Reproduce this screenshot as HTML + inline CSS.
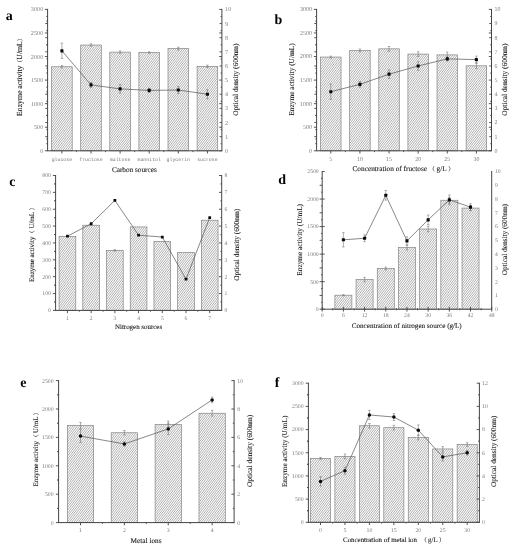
<!DOCTYPE html>
<html lang="en">
<head>
<meta charset="utf-8">
<title>Figure: enzyme activity and optical density</title>
<style>
html,body{margin:0;padding:0;background:#fff;}
body{width:514px;height:550px;overflow:hidden;}
svg{display:block;}
text{white-space:pre;text-rendering:geometricPrecision;font-family:"Liberation Serif","Noto Serif CJK SC",serif;fill:#1a1a1a;}
.k,.ke,.ks{fill:#7c7c7c;}
.k,.m{text-anchor:middle;}
.ke{text-anchor:end;}
.m{font-family:"Liberation Mono",monospace;fill:#777;}
.t{stroke:#1a1a1a;stroke-width:0.1;}
.L{font-weight:bold;fill:#000;}
.A{stroke:#444;stroke-width:1;fill:none;}
.a{stroke:#444;stroke-width:0.9;fill:none;}
.b{fill:none;stroke:#858585;stroke-width:0.7;}
.e{stroke:#6e6e6e;stroke-width:0.55;fill:none;}
.l{stroke:#555;stroke-width:0.7;fill:none;}
rect,circle{fill:#0a0a0a;}
</style>
</head>
<body>
<svg width="514" height="550" viewBox="0 0 514 550">
<defs>
<clipPath id="bc">
<rect x="51.6" y="66.76" width="20.6" height="84.04"/>
<rect x="80.7" y="45.03" width="20.6" height="105.77"/>
<rect x="109.8" y="52.15" width="20.6" height="98.65"/>
<rect x="138.9" y="52.53" width="20.6" height="98.27"/>
<rect x="168" y="48.61" width="20.6" height="102.19"/>
<rect x="197.1" y="66.34" width="20.6" height="84.46"/>
<rect x="320.55" y="57.05" width="20.5" height="93.75"/>
<rect x="349.67" y="50.45" width="20.5" height="100.35"/>
<rect x="378.79" y="48.85" width="20.5" height="101.95"/>
<rect x="407.91" y="54.08" width="20.5" height="96.72"/>
<rect x="437.03" y="54.88" width="20.5" height="95.92"/>
<rect x="466.15" y="65.82" width="20.5" height="84.98"/>
<rect x="59.1" y="236.37" width="16.7" height="74.03"/>
<rect x="82.81" y="225.24" width="16.7" height="85.16"/>
<rect x="106.52" y="250.37" width="16.7" height="60.03"/>
<rect x="130.23" y="226.93" width="16.7" height="83.47"/>
<rect x="153.94" y="241.6" width="16.7" height="68.8"/>
<rect x="177.65" y="252.39" width="16.7" height="58.01"/>
<rect x="201.36" y="220.19" width="16.7" height="90.21"/>
<rect x="334.89" y="295.21" width="17" height="13.99"/>
<rect x="356.08" y="279.57" width="17" height="29.63"/>
<rect x="377.27" y="268.44" width="17" height="40.76"/>
<rect x="398.46" y="247.51" width="17" height="61.69"/>
<rect x="419.65" y="229" width="17" height="80.2"/>
<rect x="440.84" y="200.25" width="17" height="108.95"/>
<rect x="462.03" y="208.07" width="17" height="101.13"/>
<rect x="67.35" y="425.47" width="26.3" height="97.13"/>
<rect x="111.23" y="432.74" width="26.3" height="89.86"/>
<rect x="155.11" y="424.51" width="26.3" height="98.09"/>
<rect x="198.99" y="413.26" width="26.3" height="109.34"/>
<rect x="310.45" y="458.36" width="20.1" height="63.94"/>
<rect x="334.9" y="456.37" width="20.1" height="65.93"/>
<rect x="359.35" y="425.76" width="20.1" height="96.54"/>
<rect x="383.8" y="427.67" width="20.1" height="94.63"/>
<rect x="408.25" y="437.54" width="20.1" height="84.76"/>
<rect x="432.7" y="448.95" width="20.1" height="73.35"/>
<rect x="457.15" y="444.54" width="20.1" height="77.76"/>
</clipPath>
</defs>
<rect width="514" height="550" style="fill:#fff"/>
<path clip-path="url(#bc)" d="M0.3 0L0 0.39M2.5 0L0 3.25M4.7 0L0 6.11M6.9 0L0 8.97M9.1 0L0 11.83M11.3 0L0 14.69M13.5 0L0 17.55M15.7 0L0 20.41M17.9 0L0 23.27M20.1 0L0 26.13M22.3 0L0 28.99M24.5 0L0 31.85M26.7 0L0 34.71M28.9 0L0 37.57M31.1 0L0 40.43M33.3 0L0 43.29M35.5 0L0 46.15M37.7 0L0 49.01M39.9 0L0 51.87M42.1 0L0 54.73M44.3 0L0 57.59M46.5 0L0 60.45M48.7 0L0 63.31M50.9 0L0 66.17M53.1 0L0 69.03M55.3 0L0 71.89M57.5 0L0 74.75M59.7 0L0 77.61M61.9 0L0 80.47M64.1 0L0 83.33M66.3 0L0 86.19M68.5 0L0 89.05M70.7 0L0 91.91M72.9 0L0 94.77M75.1 0L0 97.63M77.3 0L0 100.49M79.5 0L0 103.35M81.7 0L0 106.21M83.9 0L0 109.07M86.1 0L0 111.93M88.3 0L0 114.79M90.5 0L0 117.65M92.7 0L0 120.51M94.9 0L0 123.37M97.1 0L0 126.23M99.3 0L0 129.09M101.5 0L0 131.95M103.7 0L0 134.81M105.9 0L0 137.67M108.1 0L0 140.53M110.3 0L0 143.39M112.5 0L0 146.25M114.7 0L0 149.11M116.9 0L0 151.97M119.1 0L0 154.83M121.3 0L0 157.69M123.5 0L0 160.55M125.7 0L0 163.41M127.9 0L0 166.27M130.1 0L0 169.13M132.3 0L0 171.99M134.5 0L0 174.85M136.7 0L0 177.71M138.9 0L0 180.57M141.1 0L0 183.43M143.3 0L0 186.29M145.5 0L0 189.15M147.7 0L0 192.01M149.9 0L0 194.87M152.1 0L0 197.73M154.3 0L0 200.59M156.5 0L0 203.45M158.7 0L0 206.31M160.9 0L0 209.17M163.1 0L0 212.03M165.3 0L0 214.89M167.5 0L0 217.75M169.7 0L0 220.61M171.9 0L0 223.47M174.1 0L0 226.33M176.3 0L0 229.19M178.5 0L0 232.05M180.7 0L0 234.91M182.9 0L0 237.77M185.1 0L0 240.63M187.3 0L0 243.49M189.5 0L0 246.35M191.7 0L0 249.21M193.9 0L0 252.07M196.1 0L0 254.93M198.3 0L0 257.79M200.5 0L0 260.65M202.7 0L0 263.51M204.9 0L0 266.37M207.1 0L0 269.23M209.3 0L0 272.09M211.5 0L0 274.95M213.7 0L0 277.81M215.9 0L0 280.67M218.1 0L0 283.53M220.3 0L0 286.39M222.5 0L0 289.25M224.7 0L0 292.11M226.9 0L0 294.97M229.1 0L0 297.83M231.3 0L0 300.69M233.5 0L0 303.55M235.7 0L0 306.41M237.9 0L0 309.27M240.1 0L0 312.13M242.3 0L0 314.99M244.5 0L0 317.85M246.7 0L0 320.71M248.9 0L0 323.57M251.1 0L0 326.43M253.3 0L0 329.29M255.5 0L0 332.15M257.7 0L0 335.01M259.9 0L0 337.87M262.1 0L0 340.73M264.3 0L0 343.59M266.5 0L0 346.45M268.7 0L0 349.31M270.9 0L0 352.17M273.1 0L0 355.03M275.3 0L0 357.89M277.5 0L0 360.75M279.7 0L0 363.61M281.9 0L0 366.47M284.1 0L0 369.33M286.3 0L0 372.19M288.5 0L0 375.05M290.7 0L0 377.91M292.9 0L0 380.77M295.1 0L0 383.63M297.3 0L0 386.49M299.5 0L0 389.35M301.7 0L0 392.21M303.9 0L0 395.07M306.1 0L0 397.93M308.3 0L0 400.79M310.5 0L0 403.65M312.7 0L0 406.51M314.9 0L0 409.37M317.1 0L0 412.23M319.3 0L0 415.09M321.5 0L0 417.95M323.7 0L0 420.81M325.9 0L0 423.67M328.1 0L0 426.53M330.3 0L0 429.39M332.5 0L0 432.25M334.7 0L0 435.11M336.9 0L0 437.97M339.1 0L0 440.83M341.3 0L0 443.69M343.5 0L0 446.55M345.7 0L0 449.41M347.9 0L0 452.27M350.1 0L0 455.13M352.3 0L0 457.99M354.5 0L0 460.85M356.7 0L0 463.71M358.9 0L0 466.57M361.1 0L0 469.43M363.3 0L0 472.29M365.5 0L0 475.15M367.7 0L0 478.01M369.9 0L0 480.87M372.1 0L0 483.73M374.3 0L0 486.59M376.5 0L0 489.45M378.7 0L0 492.31M380.9 0L0 495.17M383.1 0L0 498.03M385.3 0L0 500.89M387.5 0L0 503.75M389.7 0L0 506.61M391.9 0L0 509.47M394.1 0L0 512.33M396.3 0L0 515.19M398.5 0L0 518.05M400.7 0L0 520.91M402.9 0L0 523.77M405.1 0L0 526.63M407.3 0L0 529.49M409.5 0L0 532.35M411.7 0L0 535.21M413.9 0L0 538.07M416.1 0L0 540.93M418.3 0L0 543.79M420.5 0L0 546.65M422.7 0L0 549.51M424.9 0L0 552.37M427.1 0L0 555.23M429.3 0L0 558.09M431.5 0L0 560.95M433.7 0L0 563.81M435.9 0L0 566.67M438.1 0L0 569.53M440.3 0L0 572.39M442.5 0L0 575.25M444.7 0L0 578.11M446.9 0L0 580.97M449.1 0L0 583.83M451.3 0L0 586.69M453.5 0L0 589.55M455.7 0L0 592.41M457.9 0L0 595.27M460.1 0L0 598.13M462.3 0L0 600.99M464.5 0L0 603.85M466.7 0L0 606.71M468.9 0L0 609.57M471.1 0L0 612.43M473.3 0L0 615.29M475.5 0L0 618.15M477.7 0L0 621.01M479.9 0L0 623.87M482.1 0L0 626.73M484.3 0L0 629.59M486.5 0L0 632.45M488.7 0L0 635.31M490.9 0L0 638.17M493.1 0L0 641.03M495.3 0L0 643.89M497.5 0L0 646.75M499.7 0L0 649.61M501.9 0L0 652.47M504.1 0L0 655.33M506.3 0L0 658.19M508.5 0L0 661.05M510.7 0L0 663.91M512.9 0L0 666.77M515.1 0L0 669.63M517.3 0L0 672.49M519.5 0L0 675.35M521.7 0L0 678.21M523.9 0L0 681.07M526.1 0L0 683.93M528.3 0L0 686.79M530.5 0L0 689.65M532.7 0L0 692.51M534.9 0L0 695.37M537.1 0L0 698.23M539.3 0L0 701.09M541.5 0L0 703.95M543.7 0L0 706.81M545.9 0L0 709.67M548.1 0L0 712.53M550.3 0L0 715.39M552.5 0L0 718.25M554.7 0L0 721.11M556.9 0L0 723.97M559.1 0L0 726.83M561.3 0L0 729.69M563.5 0L0 732.55M565.7 0L0 735.41M567.9 0L0 738.27M570.1 0L0 741.13M572.3 0L0 743.99M574.5 0L0 746.85M576.7 0L0 749.71M578.9 0L0 752.57M581.1 0L0 755.43M583.3 0L0 758.29M585.5 0L0 761.15M587.7 0L0 764.01M589.9 0L0 766.87M592.1 0L0 769.73M594.3 0L0 772.59M596.5 0L0 775.45M598.7 0L0 778.31M600.9 0L0 781.17M603.1 0L0 784.03M605.3 0L0 786.89M607.5 0L0 789.75M609.7 0L0 792.61M611.9 0L0 795.47M614.1 0L0 798.33M616.3 0L0 801.19M618.5 0L0 804.05M620.7 0L0 806.91M622.9 0L0 809.77M625.1 0L0 812.63M627.3 0L0 815.49M629.5 0L0 818.35M631.7 0L0 821.21M633.9 0L0 824.07M636.1 0L0 826.93M638.3 0L0 829.79M640.5 0L0 832.65M642.7 0L0 835.51M644.9 0L0 838.37M647.1 0L0 841.23M649.3 0L0 844.09M651.5 0L0 846.95M653.7 0L0 849.81M655.9 0L0 852.67M658.1 0L0 855.53M660.3 0L0 858.39M662.5 0L0 861.25M664.7 0L0 864.11M666.9 0L0 866.97M669.1 0L0 869.83M671.3 0L0 872.69M673.5 0L0 875.55M675.7 0L0 878.41M677.9 0L0 881.27M680.1 0L0 884.13M682.3 0L0 886.99M684.5 0L0 889.85M686.7 0L0 892.71M688.9 0L0 895.57M691.1 0L0 898.43M693.3 0L0 901.29M695.5 0L0 904.15M697.7 0L0 907.01M699.9 0L0 909.87M702.1 0L0 912.73M704.3 0L0 915.59M706.5 0L0 918.45M708.7 0L0 921.31M710.9 0L0 924.17M713.1 0L0 927.03M715.3 0L0 929.89M717.5 0L0 932.75M719.7 0L0 935.61M721.9 0L0 938.47M724.1 0L0 941.33M726.3 0L0 944.19M728.5 0L0 947.05M730.7 0L0 949.91M732.9 0L0 952.77M735.1 0L0 955.63M737.3 0L0 958.49M739.5 0L0 961.35M741.7 0L0 964.21M743.9 0L0 967.07M746.1 0L0 969.93M748.3 0L0 972.79M750.5 0L0 975.65M752.7 0L0 978.51M754.9 0L0 981.37M757.1 0L0 984.23M759.3 0L0 987.09M761.5 0L0 989.95M763.7 0L0 992.81M765.9 0L0 995.67M768.1 0L0 998.53M770.3 0L0 1001.39M772.5 0L0 1004.25M774.7 0L0 1007.11M776.9 0L0 1009.97M779.1 0L0 1012.83M781.3 0L0 1015.69M783.5 0L0 1018.55M785.7 0L0 1021.41M787.9 0L0 1024.27M790.1 0L0 1027.13M792.3 0L0 1029.99M794.5 0L0 1032.85M796.7 0L0 1035.71M798.9 0L0 1038.57M801.1 0L0 1041.43M803.3 0L0 1044.29M805.5 0L0 1047.15M807.7 0L0 1050.01M809.9 0L0 1052.87M812.1 0L0 1055.73M814.3 0L0 1058.59M816.5 0L0 1061.45M818.7 0L0 1064.31M820.9 0L0 1067.17M823.1 0L0 1070.03M825.3 0L0 1072.89M827.5 0L0 1075.75M829.7 0L0 1078.61M831.9 0L0 1081.47M834.1 0L0 1084.33M836.3 0L0 1087.19M838.5 0L0 1090.05M840.7 0L0 1092.91M842.9 0L0 1095.77M845.1 0L0 1098.63M847.3 0L0 1101.49M849.5 0L0 1104.35M851.7 0L0 1107.21M853.9 0L0 1110.07M856.1 0L0 1112.93M858.3 0L0 1115.79M860.5 0L0 1118.65M862.7 0L0 1121.51M864.9 0L0 1124.37M867.1 0L0 1127.23M869.3 0L0 1130.09M871.5 0L0 1132.95M873.7 0L0 1135.81M875.9 0L0 1138.67M878.1 0L0 1141.53M880.3 0L0 1144.39M882.5 0L0 1147.25M884.7 0L0 1150.11M886.9 0L0 1152.97M889.1 0L0 1155.83M891.3 0L0 1158.69M893.5 0L0 1161.55M895.7 0L0 1164.41M897.9 0L0 1167.27M900.1 0L0 1170.13M902.3 0L0 1172.99M904.5 0L0 1175.85M906.7 0L0 1178.71M908.9 0L0 1181.57M911.1 0L0 1184.43M913.3 0L0 1187.29M915.5 0L0 1190.15M917.7 0L0 1193.01M919.9 0L0 1195.87M922.1 0L0 1198.73M924.3 0L0 1201.59M926.5 0L0 1204.45M928.7 0L0 1207.31M930.9 0L0 1210.17M933.1 0L0 1213.03M935.3 0L0 1215.89" stroke="#8c8c8c" stroke-width="0.7" fill="none"/>
<g>
<rect x="51.6" y="66.76" width="20.6" height="84.04" class="b"/>
<path class="e" d="M61.9 65.58V67.94M60.7 65.58h2.4M60.7 67.94h2.4"/>
<rect x="80.7" y="45.03" width="20.6" height="105.77" class="b"/>
<path class="e" d="M91 43.85V46.21M89.8 43.85h2.4M89.8 46.21h2.4"/>
<rect x="109.8" y="52.15" width="20.6" height="98.65" class="b"/>
<path class="e" d="M120.1 50.97V53.33M118.9 50.97h2.4M118.9 53.33h2.4"/>
<rect x="138.9" y="52.53" width="20.6" height="98.27" class="b"/>
<path class="e" d="M149.2 51.82V53.23M148 51.82h2.4M148 53.23h2.4"/>
<rect x="168" y="48.61" width="20.6" height="102.19" class="b"/>
<path class="e" d="M178.3 47.2V50.03M177.1 47.2h2.4M177.1 50.03h2.4"/>
<rect x="197.1" y="66.34" width="20.6" height="84.46" class="b"/>
<path class="e" d="M207.4 65.16V67.52M206.2 65.16h2.4M206.2 67.52h2.4"/>
<path class="A" d="M47.1 150.8H222.4"/>
<path class="A" d="M47.6 8.9V150.8"/>
<path class="A" d="M221.9 8.9V150.8"/>
<path class="a" d="M47.6 150.8h-2.7M47.6 127.23h-2.7M47.6 103.67h-2.7M47.6 80.1h-2.7M47.6 56.53h-2.7M47.6 32.97h-2.7M47.6 9.4h-2.7M47.6 136.66h-2.3M47.6 122.52h-2.3M47.6 108.38h-2.3M47.6 94.24h-2.3M47.6 65.96h-2.3M47.6 51.82h-2.3M47.6 37.68h-2.3M47.6 23.54h-2.3M47.6 143.73h-1.3M47.6 129.59h-1.3M47.6 115.45h-1.3M47.6 101.31h-1.3M47.6 87.17h-1.3M47.6 73.03h-1.3M47.6 58.89h-1.3M47.6 44.75h-1.3M47.6 30.61h-1.3M47.6 16.47h-1.3M47.6 139.02h-1.3M47.6 115.45h-1.3M47.6 91.88h-1.3M47.6 68.32h-1.3M47.6 44.75h-1.3M47.6 21.18h-1.3M221.9 150.8h-2.7M221.9 127.23h-2.7M221.9 103.67h-2.7M221.9 80.1h-2.7M221.9 56.53h-2.7M221.9 32.97h-2.7M221.9 9.4h-2.7M221.9 136.66h-2.3M221.9 122.52h-2.3M221.9 108.38h-2.3M221.9 94.24h-2.3M221.9 65.96h-2.3M221.9 51.82h-2.3M221.9 37.68h-2.3M221.9 23.54h-2.3M221.9 143.73h-1.3M221.9 129.59h-1.3M221.9 115.45h-1.3M221.9 101.31h-1.3M221.9 87.17h-1.3M221.9 73.03h-1.3M221.9 58.89h-1.3M221.9 44.75h-1.3M221.9 30.61h-1.3M221.9 16.47h-1.3M61.9 150.8v2.7M91 150.8v2.7M120.1 150.8v2.7M149.2 150.8v2.7M178.3 150.8v2.7M207.4 150.8v2.7M76.45 150.8v1.3M105.55 150.8v1.3M134.65 150.8v1.3M163.75 150.8v1.3M192.85 150.8v1.3"/>
<text class="ke" x="43.42" y="152.81" font-size="6.1" letter-spacing="0.12">0</text>
<text class="ke" x="43.42" y="129.25" font-size="6.1" letter-spacing="0.12">500</text>
<text class="ke" x="43.42" y="105.68" font-size="6.1" letter-spacing="0.12">1000</text>
<text class="ke" x="43.42" y="82.11" font-size="6.1" letter-spacing="0.12">1500</text>
<text class="ke" x="43.42" y="58.55" font-size="6.1" letter-spacing="0.12">2000</text>
<text class="ke" x="43.42" y="34.98" font-size="6.1" letter-spacing="0.12">2500</text>
<text class="ke" x="43.42" y="11.41" font-size="6.1" letter-spacing="0.12">3000</text>
<text class="ks" x="225" y="152.81" font-size="6.1" letter-spacing="0.12">0</text>
<text class="ks" x="225" y="138.67" font-size="6.1" letter-spacing="0.12">1</text>
<text class="ks" x="225" y="124.53" font-size="6.1" letter-spacing="0.12">2</text>
<text class="ks" x="225" y="110.39" font-size="6.1" letter-spacing="0.12">3</text>
<text class="ks" x="225" y="96.25" font-size="6.1" letter-spacing="0.12">4</text>
<text class="ks" x="225" y="82.11" font-size="6.1" letter-spacing="0.12">5</text>
<text class="ks" x="225" y="67.97" font-size="6.1" letter-spacing="0.12">6</text>
<text class="ks" x="225" y="53.83" font-size="6.1" letter-spacing="0.12">7</text>
<text class="ks" x="225" y="39.69" font-size="6.1" letter-spacing="0.12">8</text>
<text class="ks" x="225" y="25.55" font-size="6.1" letter-spacing="0.12">9</text>
<text class="ks" x="225" y="11.41" font-size="6.1" letter-spacing="0.12">10</text>
<text class="m" x="61.9" y="161.3" font-size="4.9">glucose</text>
<text class="m" x="91" y="161.3" font-size="4.9">fructose</text>
<text class="m" x="120.1" y="161.3" font-size="4.9">maltose</text>
<text class="m" x="149.2" y="161.3" font-size="4.9">mannitol</text>
<text class="m" x="178.3" y="161.3" font-size="4.9">glycerin</text>
<text class="m" x="207.4" y="161.3" font-size="4.9">sucrose</text>
<polyline class="l" points="61.9,50.83 91,84.91 120.1,88.87 149.2,90.42 178.3,90 207.4,94.24"/>
<path class="e" d="M61.9 43.19V58.47M60.7 43.19h2.4M60.7 58.47h2.4"/>
<rect x="60.35" y="49.28" width="3.1" height="3.1" rx="0.4"/>
<path class="e" d="M91 82.36V87.45M89.8 82.36h2.4M89.8 87.45h2.4"/>
<rect x="89.45" y="83.36" width="3.1" height="3.1" rx="0.4"/>
<path class="e" d="M120.1 84.62V93.11M118.9 84.62h2.4M118.9 93.11h2.4"/>
<rect x="118.55" y="87.32" width="3.1" height="3.1" rx="0.4"/>
<path class="e" d="M149.2 88.3V92.54M148 88.3h2.4M148 92.54h2.4"/>
<rect x="147.65" y="88.87" width="3.1" height="3.1" rx="0.4"/>
<path class="e" d="M178.3 86.46V93.53M177.1 86.46h2.4M177.1 93.53h2.4"/>
<rect x="176.75" y="88.45" width="3.1" height="3.1" rx="0.4"/>
<path class="e" d="M207.4 89.72V98.76M206.2 89.72h2.4M206.2 98.76h2.4"/>
<rect x="205.85" y="92.69" width="3.1" height="3.1" rx="0.4"/>
<text class="t" transform="translate(22 115.9) rotate(-90)" font-size="7.72">Enzyme activity<tspan font-size="5.8" dx="-0.17">（</tspan><tspan dx="0.24">U/mL</tspan><tspan font-size="5.8" dx="0.24">）</tspan></text>
<text class="t" transform="translate(238.2 115.7) rotate(-90)" font-size="7.4">Optical density (600nm)</text>
<text class="t" x="111.9" y="171.6" font-size="7.25">Carbon sources</text>
<text class="L" x="5.8" y="20.3" font-size="14">a</text>
</g>
<g>
<rect x="320.55" y="57.05" width="20.5" height="93.75" class="b"/>
<path class="e" d="M330.8 56.11V57.99M329.6 56.11h2.4M329.6 57.99h2.4"/>
<rect x="349.67" y="50.45" width="20.5" height="100.35" class="b"/>
<path class="e" d="M359.92 49.04V51.87M358.72 49.04h2.4M358.72 51.87h2.4"/>
<rect x="378.79" y="48.85" width="20.5" height="101.95" class="b"/>
<path class="e" d="M389.04 46.49V51.21M387.84 46.49h2.4M387.84 51.21h2.4"/>
<rect x="407.91" y="54.08" width="20.5" height="96.72" class="b"/>
<path class="e" d="M418.16 51.73V56.44M416.96 51.73h2.4M416.96 56.44h2.4"/>
<rect x="437.03" y="54.88" width="20.5" height="95.92" class="b"/>
<path class="e" d="M447.28 52.06V57.71M446.08 52.06h2.4M446.08 57.71h2.4"/>
<rect x="466.15" y="65.82" width="20.5" height="84.98" class="b"/>
<path class="e" d="M476.4 62.99V68.65M475.2 62.99h2.4M475.2 68.65h2.4"/>
<path class="A" d="M316.1 150.8H492"/>
<path class="A" d="M316.6 8.9V150.8"/>
<path class="A" d="M491.5 8.9V150.8"/>
<path class="a" d="M316.6 150.8h-2.7M316.6 127.23h-2.7M316.6 103.67h-2.7M316.6 80.1h-2.7M316.6 56.53h-2.7M316.6 32.97h-2.7M316.6 9.4h-2.7M316.6 136.66h-2.3M316.6 122.52h-2.3M316.6 108.38h-2.3M316.6 94.24h-2.3M316.6 65.96h-2.3M316.6 51.82h-2.3M316.6 37.68h-2.3M316.6 23.54h-2.3M316.6 143.73h-1.3M316.6 129.59h-1.3M316.6 115.45h-1.3M316.6 101.31h-1.3M316.6 87.17h-1.3M316.6 73.03h-1.3M316.6 58.89h-1.3M316.6 44.75h-1.3M316.6 30.61h-1.3M316.6 16.47h-1.3M316.6 139.02h-1.3M316.6 115.45h-1.3M316.6 91.88h-1.3M316.6 68.32h-1.3M316.6 44.75h-1.3M316.6 21.18h-1.3M491.5 150.8h-2.7M491.5 127.23h-2.7M491.5 103.67h-2.7M491.5 80.1h-2.7M491.5 56.53h-2.7M491.5 32.97h-2.7M491.5 9.4h-2.7M491.5 136.66h-2.3M491.5 122.52h-2.3M491.5 108.38h-2.3M491.5 94.24h-2.3M491.5 65.96h-2.3M491.5 51.82h-2.3M491.5 37.68h-2.3M491.5 23.54h-2.3M491.5 143.73h-1.3M491.5 129.59h-1.3M491.5 115.45h-1.3M491.5 101.31h-1.3M491.5 87.17h-1.3M491.5 73.03h-1.3M491.5 58.89h-1.3M491.5 44.75h-1.3M491.5 30.61h-1.3M491.5 16.47h-1.3M330.8 150.8v2.7M359.92 150.8v2.7M389.04 150.8v2.7M418.16 150.8v2.7M447.28 150.8v2.7M476.4 150.8v2.7M345.36 150.8v1.3M374.48 150.8v1.3M403.6 150.8v1.3M432.72 150.8v1.3M461.84 150.8v1.3"/>
<text class="ke" x="311.95" y="152.75" font-size="5.9" letter-spacing="0.05">0</text>
<text class="ke" x="311.95" y="129.18" font-size="5.9" letter-spacing="0.05">500</text>
<text class="ke" x="311.95" y="105.61" font-size="5.9" letter-spacing="0.05">1000</text>
<text class="ke" x="311.95" y="82.05" font-size="5.9" letter-spacing="0.05">1500</text>
<text class="ke" x="311.95" y="58.48" font-size="5.9" letter-spacing="0.05">2000</text>
<text class="ke" x="311.95" y="34.91" font-size="5.9" letter-spacing="0.05">2500</text>
<text class="ke" x="311.95" y="11.35" font-size="5.9" letter-spacing="0.05">3000</text>
<text class="ks" x="494.5" y="152.75" font-size="5.9" letter-spacing="0.05">0</text>
<text class="ks" x="494.5" y="138.61" font-size="5.9" letter-spacing="0.05">1</text>
<text class="ks" x="494.5" y="124.47" font-size="5.9" letter-spacing="0.05">2</text>
<text class="ks" x="494.5" y="110.33" font-size="5.9" letter-spacing="0.05">3</text>
<text class="ks" x="494.5" y="96.19" font-size="5.9" letter-spacing="0.05">4</text>
<text class="ks" x="494.5" y="82.05" font-size="5.9" letter-spacing="0.05">5</text>
<text class="ks" x="494.5" y="67.91" font-size="5.9" letter-spacing="0.05">6</text>
<text class="ks" x="494.5" y="53.77" font-size="5.9" letter-spacing="0.05">7</text>
<text class="ks" x="494.5" y="39.63" font-size="5.9" letter-spacing="0.05">8</text>
<text class="ks" x="494.5" y="25.49" font-size="5.9" letter-spacing="0.05">9</text>
<text class="ks" x="494.5" y="11.35" font-size="5.9" letter-spacing="0.05">10</text>
<text class="k" x="330.82" y="160.5" font-size="5.9" letter-spacing="0.05">5</text>
<text class="k" x="359.94" y="160.5" font-size="5.9" letter-spacing="0.05">10</text>
<text class="k" x="389.06" y="160.5" font-size="5.9" letter-spacing="0.05">15</text>
<text class="k" x="418.19" y="160.5" font-size="5.9" letter-spacing="0.05">20</text>
<text class="k" x="447.31" y="160.5" font-size="5.9" letter-spacing="0.05">25</text>
<text class="k" x="476.42" y="160.5" font-size="5.9" letter-spacing="0.05">30</text>
<polyline class="l" points="330.8,91.69 359.92,84.34 389.04,74.16 418.16,65.96 447.28,58.89 476.4,59.6"/>
<path class="e" d="M330.8 84.06V99.33M329.6 84.06h2.4M329.6 99.33h2.4"/>
<rect x="329.25" y="90.14" width="3.1" height="3.1" rx="0.4"/>
<path class="e" d="M359.92 81.51V87.17M358.72 81.51h2.4M358.72 87.17h2.4"/>
<rect x="358.37" y="82.79" width="3.1" height="3.1" rx="0.4"/>
<path class="e" d="M389.04 69.92V78.4M387.84 69.92h2.4M387.84 78.4h2.4"/>
<rect x="387.49" y="72.61" width="3.1" height="3.1" rx="0.4"/>
<path class="e" d="M418.16 61.72V70.2M416.96 61.72h2.4M416.96 70.2h2.4"/>
<rect x="416.61" y="64.41" width="3.1" height="3.1" rx="0.4"/>
<path class="e" d="M447.28 56.77V61.01M446.08 56.77h2.4M446.08 61.01h2.4"/>
<rect x="445.73" y="57.34" width="3.1" height="3.1" rx="0.4"/>
<path class="e" d="M476.4 56.06V63.13M475.2 56.06h2.4M475.2 63.13h2.4"/>
<rect x="474.85" y="58.05" width="3.1" height="3.1" rx="0.4"/>
<text class="t" transform="translate(294.2 115.7) rotate(-90)" font-size="7.36">Enzyme activity (U/mL)</text>
<text class="t" transform="translate(506.8 115.7) rotate(-90)" font-size="7.4">Optical density (600nm)</text>
<text class="t" x="352.5" y="171" font-size="7.31">Concentration of fructose<tspan font-size="5.8" dx="1.93">（</tspan><tspan dx="1.69">g/L</tspan><tspan font-size="5.8" dx="1.69">）</tspan></text>
<text class="L" x="274.6" y="24" font-size="14">b</text>
</g>
<g>
<rect x="59.1" y="236.37" width="16.7" height="74.03" class="b"/>
<rect x="82.81" y="225.24" width="16.7" height="85.16" class="b"/>
<rect x="106.52" y="250.37" width="16.7" height="60.03" class="b"/>
<path class="e" d="M114.87 249.69V251.04M113.67 249.69h2.4M113.67 251.04h2.4"/>
<rect x="130.23" y="226.93" width="16.7" height="83.47" class="b"/>
<rect x="153.94" y="241.6" width="16.7" height="68.8" class="b"/>
<rect x="177.65" y="252.39" width="16.7" height="58.01" class="b"/>
<rect x="201.36" y="220.19" width="16.7" height="90.21" class="b"/>
<path class="A" d="M55.1 310.4H222.2"/>
<path class="A" d="M55.6 175V310.4"/>
<path class="A" d="M221.7 175V310.4"/>
<path class="a" d="M55.6 310.4h-2.7M55.6 293.54h-2.7M55.6 276.67h-2.7M55.6 259.81h-2.7M55.6 242.95h-2.7M55.6 226.09h-2.7M55.6 209.22h-2.7M55.6 192.36h-2.7M55.6 175.5h-2.7M55.6 301.97h-1.3M55.6 285.11h-1.3M55.6 268.24h-1.3M55.6 251.38h-1.3M55.6 234.52h-1.3M55.6 217.66h-1.3M55.6 200.79h-1.3M55.6 183.93h-1.3M55.6 301.97h-1.3M55.6 285.11h-1.3M55.6 268.24h-1.3M55.6 251.38h-1.3M55.6 234.52h-1.3M55.6 217.66h-1.3M55.6 200.79h-1.3M55.6 183.93h-1.3M221.7 310.4h-2.7M221.7 293.54h-2.7M221.7 276.67h-2.7M221.7 259.81h-2.7M221.7 242.95h-2.7M221.7 226.09h-2.7M221.7 209.22h-2.7M221.7 192.36h-2.7M221.7 175.5h-2.7M221.7 301.97h-1.3M221.7 285.11h-1.3M221.7 268.24h-1.3M221.7 251.38h-1.3M221.7 234.52h-1.3M221.7 217.66h-1.3M221.7 200.79h-1.3M221.7 183.93h-1.3M67.45 310.4v2.7M91.16 310.4v2.7M114.87 310.4v2.7M138.58 310.4v2.7M162.29 310.4v2.7M186 310.4v2.7M209.71 310.4v2.7M79.31 310.4v1.3M103.02 310.4v1.3M126.72 310.4v1.3M150.44 310.4v1.3M174.15 310.4v1.3M197.85 310.4v1.3"/>
<text class="ke" x="50.83" y="312.25" font-size="5.6" letter-spacing="0.03">0</text>
<text class="ke" x="50.83" y="295.39" font-size="5.6" letter-spacing="0.03">100</text>
<text class="ke" x="50.83" y="278.52" font-size="5.6" letter-spacing="0.03">200</text>
<text class="ke" x="50.83" y="261.66" font-size="5.6" letter-spacing="0.03">300</text>
<text class="ke" x="50.83" y="244.8" font-size="5.6" letter-spacing="0.03">400</text>
<text class="ke" x="50.83" y="227.94" font-size="5.6" letter-spacing="0.03">500</text>
<text class="ke" x="50.83" y="211.07" font-size="5.6" letter-spacing="0.03">600</text>
<text class="ke" x="50.83" y="194.21" font-size="5.6" letter-spacing="0.03">700</text>
<text class="ke" x="50.83" y="177.35" font-size="5.6" letter-spacing="0.03">800</text>
<text class="ks" x="224.4" y="312.25" font-size="5.6" letter-spacing="0.03">0</text>
<text class="ks" x="224.4" y="295.39" font-size="5.6" letter-spacing="0.03">1</text>
<text class="ks" x="224.4" y="278.52" font-size="5.6" letter-spacing="0.03">2</text>
<text class="ks" x="224.4" y="261.66" font-size="5.6" letter-spacing="0.03">3</text>
<text class="ks" x="224.4" y="244.8" font-size="5.6" letter-spacing="0.03">4</text>
<text class="ks" x="224.4" y="227.94" font-size="5.6" letter-spacing="0.03">5</text>
<text class="ks" x="224.4" y="211.07" font-size="5.6" letter-spacing="0.03">6</text>
<text class="ks" x="224.4" y="194.21" font-size="5.6" letter-spacing="0.03">7</text>
<text class="ks" x="224.4" y="177.35" font-size="5.6" letter-spacing="0.03">8</text>
<text class="k" x="67.47" y="319.5" font-size="5.6" letter-spacing="0.03">1</text>
<text class="k" x="91.17" y="319.5" font-size="5.6" letter-spacing="0.03">2</text>
<text class="k" x="114.89" y="319.5" font-size="5.6" letter-spacing="0.03">3</text>
<text class="k" x="138.59" y="319.5" font-size="5.6" letter-spacing="0.03">4</text>
<text class="k" x="162.31" y="319.5" font-size="5.6" letter-spacing="0.03">5</text>
<text class="k" x="186.01" y="319.5" font-size="5.6" letter-spacing="0.03">6</text>
<text class="k" x="209.72" y="319.5" font-size="5.6" letter-spacing="0.03">7</text>
<polyline class="l" points="67.45,236.2 91.16,223.73 114.87,200.46 138.58,235.19 162.29,237.05 186,279.2 209.71,217.66"/>
<rect x="66.05" y="234.8" width="2.8" height="2.8" rx="0.4"/>
<rect x="89.76" y="222.33" width="2.8" height="2.8" rx="0.4"/>
<rect x="113.47" y="199.06" width="2.8" height="2.8" rx="0.4"/>
<rect x="137.18" y="233.79" width="2.8" height="2.8" rx="0.4"/>
<rect x="160.89" y="235.65" width="2.8" height="2.8" rx="0.4"/>
<rect x="184.6" y="277.8" width="2.8" height="2.8" rx="0.4"/>
<rect x="208.31" y="216.26" width="2.8" height="2.8" rx="0.4"/>
<text class="t" transform="translate(34.2 282) rotate(-90)" font-size="6.96">Enzyme activity<tspan font-size="5.8" dx="0.43">（</tspan><tspan dx="1.79">U/mL</tspan><tspan font-size="5.8" dx="1.79">）</tspan></text>
<text class="t" transform="translate(239 280.7) rotate(-90)" font-size="7.35">Optical density (600nm)</text>
<text class="t" x="115" y="329.3" font-size="6.93">Nitrogen sources</text>
<text class="L" x="9.2" y="186.3" font-size="14">c</text>
</g>
<g>
<rect x="334.89" y="295.21" width="17" height="13.99" class="b"/>
<path class="e" d="M343.39 294.66V295.76M342.19 294.66h2.4M342.19 295.76h2.4"/>
<rect x="356.08" y="279.57" width="17" height="29.63" class="b"/>
<path class="e" d="M364.58 277.36V281.77M363.38 277.36h2.4M363.38 281.77h2.4"/>
<rect x="377.27" y="268.44" width="17" height="40.76" class="b"/>
<path class="e" d="M385.77 267.06V269.82M384.57 267.06h2.4M384.57 269.82h2.4"/>
<rect x="398.46" y="247.51" width="17" height="61.69" class="b"/>
<path class="e" d="M406.96 245.03V249.99M405.76 245.03h2.4M405.76 249.99h2.4"/>
<rect x="419.65" y="229" width="17" height="80.2" class="b"/>
<path class="e" d="M428.15 226.25V231.76M426.95 226.25h2.4M426.95 231.76h2.4"/>
<rect x="440.84" y="200.25" width="17" height="108.95" class="b"/>
<path class="e" d="M449.34 197.5V203.01M448.14 197.5h2.4M448.14 203.01h2.4"/>
<rect x="462.03" y="208.07" width="17" height="101.13" class="b"/>
<path class="e" d="M470.53 205.87V210.28M469.33 205.87h2.4M469.33 210.28h2.4"/>
<path class="A" d="M321.7 309.2H492.2"/>
<path class="A" d="M322.2 171V309.2"/>
<path class="A" d="M491.7 171V309.2"/>
<path class="a" d="M322.2 309.2h2.5M322.2 281.66h2.5M322.2 254.12h2.5M322.2 226.58h2.5M322.2 199.04h2.5M322.2 171.5h2.5M322.2 309.2h-2.6M322.2 295.43h-2.6M322.2 281.66h-2.6M322.2 267.89h-2.6M322.2 254.12h-2.6M322.2 240.35h-2.6M322.2 226.58h-2.6M322.2 212.81h-2.6M322.2 199.04h-2.6M322.2 185.27h-2.6M322.2 302.31h-1.2M322.2 288.55h-1.2M322.2 274.77h-1.2M322.2 261h-1.2M322.2 247.23h-1.2M322.2 233.47h-1.2M322.2 219.69h-1.2M322.2 205.92h-1.2M322.2 192.16h-1.2M322.2 178.38h-1.2M322.2 306.8v4.8M343.39 306.8v4.8M364.58 306.8v4.8M385.77 306.8v4.8M406.96 306.8v4.8M428.15 306.8v4.8M449.34 306.8v4.8M470.53 306.8v4.8M491.72 306.8v4.8M332.8 308.1v2.2M353.99 308.1v2.2M375.18 308.1v2.2M396.37 308.1v2.2M417.56 308.1v2.2M438.75 308.1v2.2M459.94 308.1v2.2M481.12 308.1v2.2"/>
<text class="ke" x="318.73" y="311.06" font-size="5.65" letter-spacing="0.03">0</text>
<text class="ke" x="318.73" y="283.52" font-size="5.65" letter-spacing="0.03">500</text>
<text class="ke" x="318.73" y="255.98" font-size="5.65" letter-spacing="0.03">1000</text>
<text class="ke" x="318.73" y="228.44" font-size="5.65" letter-spacing="0.03">1500</text>
<text class="ke" x="318.73" y="200.9" font-size="5.65" letter-spacing="0.03">2000</text>
<text class="ke" x="318.73" y="173.36" font-size="5.65" letter-spacing="0.03">2500</text>
<text class="ks" x="495" y="311.06" font-size="5.65" letter-spacing="0.03">0</text>
<text class="ks" x="495" y="297.29" font-size="5.65" letter-spacing="0.03">1</text>
<text class="ks" x="495" y="283.52" font-size="5.65" letter-spacing="0.03">2</text>
<text class="ks" x="495" y="269.75" font-size="5.65" letter-spacing="0.03">3</text>
<text class="ks" x="495" y="255.98" font-size="5.65" letter-spacing="0.03">4</text>
<text class="ks" x="495" y="242.21" font-size="5.65" letter-spacing="0.03">5</text>
<text class="ks" x="495" y="228.44" font-size="5.65" letter-spacing="0.03">6</text>
<text class="ks" x="495" y="214.67" font-size="5.65" letter-spacing="0.03">7</text>
<text class="ks" x="495" y="200.9" font-size="5.65" letter-spacing="0.03">8</text>
<text class="ks" x="495" y="187.13" font-size="5.65" letter-spacing="0.03">9</text>
<text class="ks" x="495" y="173.36" font-size="5.65" letter-spacing="0.03">10</text>
<text class="k" x="322.21" y="317.1" font-size="5.65" letter-spacing="0.03">0</text>
<text class="k" x="343.4" y="317.1" font-size="5.65" letter-spacing="0.03">6</text>
<text class="k" x="364.59" y="317.1" font-size="5.65" letter-spacing="0.03">12</text>
<text class="k" x="385.78" y="317.1" font-size="5.65" letter-spacing="0.03">18</text>
<text class="k" x="406.97" y="317.1" font-size="5.65" letter-spacing="0.03">24</text>
<text class="k" x="428.16" y="317.1" font-size="5.65" letter-spacing="0.03">30</text>
<text class="k" x="449.35" y="317.1" font-size="5.65" letter-spacing="0.03">36</text>
<text class="k" x="470.54" y="317.1" font-size="5.65" letter-spacing="0.03">42</text>
<text class="k" x="491.74" y="317.1" font-size="5.65" letter-spacing="0.03">48</text>
<polyline class="l" points="343.39,239.8 364.58,238.28 385.77,195.32 406.96,240.9 428.15,219.83 449.34,199.87 470.53,207.16"/>
<path class="e" d="M343.39 232.64V246.96M342.19 232.64h2.4M342.19 246.96h2.4"/>
<rect x="341.84" y="238.25" width="3.1" height="3.1" rx="0.4"/>
<path class="e" d="M364.58 234.84V241.73M363.38 234.84h2.4M363.38 241.73h2.4"/>
<rect x="363.03" y="236.73" width="3.1" height="3.1" rx="0.4"/>
<path class="e" d="M385.77 190.5V200.14M384.57 190.5h2.4M384.57 200.14h2.4"/>
<rect x="384.22" y="193.77" width="3.1" height="3.1" rx="0.4"/>
<path class="e" d="M406.96 236.77V245.03M405.76 236.77h2.4M405.76 245.03h2.4"/>
<rect x="405.41" y="239.35" width="3.1" height="3.1" rx="0.4"/>
<path class="e" d="M428.15 215.01V224.65M426.95 215.01h2.4M426.95 224.65h2.4"/>
<rect x="426.6" y="218.28" width="3.1" height="3.1" rx="0.4"/>
<path class="e" d="M449.34 195.05V204.69M448.14 195.05h2.4M448.14 204.69h2.4"/>
<rect x="447.79" y="198.32" width="3.1" height="3.1" rx="0.4"/>
<path class="e" d="M470.53 203.72V210.61M469.33 203.72h2.4M469.33 210.61h2.4"/>
<rect x="468.98" y="205.61" width="3.1" height="3.1" rx="0.4"/>
<text class="t" transform="translate(302.2 275.7) rotate(-90)" font-size="7.3">Enzyme activity (U/mL)</text>
<text class="t" transform="translate(507.3 275.3) rotate(-90)" font-size="7.3">Optical density (600nm)</text>
<text class="t" x="351.8" y="327.9" font-size="7.1">Concentration of nitrogen source (g/L)</text>
<text class="L" x="278.2" y="183.6" font-size="14">d</text>
</g>
<g>
<rect x="67.35" y="425.47" width="26.3" height="97.13" class="b"/>
<path class="e" d="M80.5 422.35V428.6M79.3 422.35h2.4M79.3 428.6h2.4"/>
<rect x="111.23" y="432.74" width="26.3" height="89.86" class="b"/>
<path class="e" d="M124.38 430.47V435.01M123.18 430.47h2.4M123.18 435.01h2.4"/>
<rect x="155.11" y="424.51" width="26.3" height="98.09" class="b"/>
<path class="e" d="M168.26 421.1V427.91M167.06 421.1h2.4M167.06 427.91h2.4"/>
<rect x="198.99" y="413.26" width="26.3" height="109.34" class="b"/>
<path class="e" d="M212.14 410.42V416.1M210.94 410.42h2.4M210.94 416.1h2.4"/>
<path class="A" d="M58.1 522.6H234.6"/>
<path class="A" d="M58.6 380.1V522.6"/>
<path class="A" d="M234.1 380.1V522.6"/>
<path class="a" d="M58.6 522.6h-2.7M58.6 494.2h-2.7M58.6 465.8h-2.7M58.6 437.4h-2.7M58.6 409h-2.7M58.6 380.6h-2.7M58.6 508.4h-1.3M58.6 480h-1.3M58.6 451.6h-1.3M58.6 423.2h-1.3M58.6 394.8h-1.3M58.6 508.4h-1.3M58.6 480h-1.3M58.6 451.6h-1.3M58.6 423.2h-1.3M58.6 394.8h-1.3M234.1 522.6h-2.7M234.1 494.2h-2.7M234.1 465.8h-2.7M234.1 437.4h-2.7M234.1 409h-2.7M234.1 380.6h-2.7M234.1 508.4h-1.3M234.1 480h-1.3M234.1 451.6h-1.3M234.1 423.2h-1.3M234.1 394.8h-1.3M80.5 522.6v2.7M124.38 522.6v2.7M168.26 522.6v2.7M212.14 522.6v2.7M102.44 522.6v1.3M146.32 522.6v1.3M190.2 522.6v1.3"/>
<text class="ke" x="53.73" y="524.51" font-size="5.8" letter-spacing="0.03">0</text>
<text class="ke" x="53.73" y="496.11" font-size="5.8" letter-spacing="0.03">500</text>
<text class="ke" x="53.73" y="467.71" font-size="5.8" letter-spacing="0.03">1000</text>
<text class="ke" x="53.73" y="439.31" font-size="5.8" letter-spacing="0.03">1500</text>
<text class="ke" x="53.73" y="410.91" font-size="5.8" letter-spacing="0.03">2000</text>
<text class="ke" x="53.73" y="382.51" font-size="5.8" letter-spacing="0.03">2500</text>
<text class="ks" x="237.3" y="524.51" font-size="5.8" letter-spacing="0.03">0</text>
<text class="ks" x="237.3" y="496.11" font-size="5.8" letter-spacing="0.03">2</text>
<text class="ks" x="237.3" y="467.71" font-size="5.8" letter-spacing="0.03">4</text>
<text class="ks" x="237.3" y="439.31" font-size="5.8" letter-spacing="0.03">6</text>
<text class="ks" x="237.3" y="410.91" font-size="5.8" letter-spacing="0.03">8</text>
<text class="ks" x="237.3" y="382.51" font-size="5.8" letter-spacing="0.03">10</text>
<text class="k" x="80.52" y="532.2" font-size="5.8" letter-spacing="0.03">1</text>
<text class="k" x="124.39" y="532.2" font-size="5.8" letter-spacing="0.03">2</text>
<text class="k" x="168.27" y="532.2" font-size="5.8" letter-spacing="0.03">3</text>
<text class="k" x="212.16" y="532.2" font-size="5.8" letter-spacing="0.03">4</text>
<polyline class="l" points="80.5,436.12 124.38,443.93 168.26,428.88 212.14,399.91"/>
<path class="e" d="M80.5 429.73V442.51M79.3 429.73h2.4M79.3 442.51h2.4"/>
<circle cx="80.5" cy="436.12" r="1.75"/>
<path class="e" d="M124.38 441.8V446.06M123.18 441.8h2.4M123.18 446.06h2.4"/>
<circle cx="124.38" cy="443.93" r="1.75"/>
<path class="e" d="M168.26 423.2V434.56M167.06 423.2h2.4M167.06 434.56h2.4"/>
<circle cx="168.26" cy="428.88" r="1.75"/>
<path class="e" d="M212.14 397.07V402.75M210.94 397.07h2.4M210.94 402.75h2.4"/>
<circle cx="212.14" cy="399.91" r="1.75"/>
<text class="t" transform="translate(38.4 486.5) rotate(-90)" font-size="6.97">Enzyme activity<tspan font-size="5.8" dx="0.73">（</tspan><tspan dx="1.29">U/mL</tspan><tspan font-size="5.8" dx="1.29">）</tspan></text>
<text class="t" transform="translate(251.6 487.1) rotate(-90)" font-size="7.4">Optical density (600nm)</text>
<text class="t" x="130.6" y="542.7" font-size="7.3">Metal ions</text>
<text class="L" x="20.3" y="386.6" font-size="14">e</text>
</g>
<g>
<rect x="310.45" y="458.36" width="20.1" height="63.94" class="b"/>
<path class="e" d="M320.5 457.43V459.29M319.3 457.43h2.4M319.3 459.29h2.4"/>
<rect x="334.9" y="456.37" width="20.1" height="65.93" class="b"/>
<path class="e" d="M344.95 454.05V458.68M343.75 454.05h2.4M343.75 458.68h2.4"/>
<rect x="359.35" y="425.76" width="20.1" height="96.54" class="b"/>
<path class="e" d="M369.4 423.45V428.08M368.2 423.45h2.4M368.2 428.08h2.4"/>
<rect x="383.8" y="427.67" width="20.1" height="94.63" class="b"/>
<path class="e" d="M393.85 425.35V429.98M392.65 425.35h2.4M392.65 429.98h2.4"/>
<rect x="408.25" y="437.54" width="20.1" height="84.76" class="b"/>
<path class="e" d="M418.3 435.22V439.86M417.1 435.22h2.4M417.1 439.86h2.4"/>
<rect x="432.7" y="448.95" width="20.1" height="73.35" class="b"/>
<path class="e" d="M442.75 446.63V451.27M441.55 446.63h2.4M441.55 451.27h2.4"/>
<rect x="457.15" y="444.54" width="20.1" height="77.76" class="b"/>
<path class="e" d="M467.2 442.69V446.4M466 442.69h2.4M466 446.4h2.4"/>
<path class="A" d="M307.9 522.3H479.9"/>
<path class="A" d="M308.4 382.7V522.3"/>
<path class="A" d="M479.4 382.7V522.3"/>
<path class="a" d="M308.4 522.3h-2.7M308.4 499.12h-2.7M308.4 475.93h-2.7M308.4 452.75h-2.7M308.4 429.57h-2.7M308.4 406.38h-2.7M308.4 383.2h-2.7M308.4 510.71h-1.3M308.4 487.52h-1.3M308.4 464.34h-1.3M308.4 441.16h-1.3M308.4 417.97h-1.3M308.4 394.79h-1.3M308.4 510.71h-1.3M308.4 487.52h-1.3M308.4 464.34h-1.3M308.4 441.16h-1.3M308.4 417.97h-1.3M308.4 394.79h-1.3M479.4 522.3h-2.7M479.4 499.12h-2.7M479.4 475.93h-2.7M479.4 452.75h-2.7M479.4 429.57h-2.7M479.4 406.38h-2.7M479.4 383.2h-2.7M479.4 510.71h-1.3M479.4 487.52h-1.3M479.4 464.34h-1.3M479.4 441.16h-1.3M479.4 417.97h-1.3M479.4 394.79h-1.3M320.5 522.3v2.7M344.95 522.3v2.7M369.4 522.3v2.7M393.85 522.3v2.7M418.3 522.3v2.7M442.75 522.3v2.7M467.2 522.3v2.7M332.73 522.3v1.3M357.17 522.3v1.3M381.62 522.3v1.3M406.08 522.3v1.3M430.52 522.3v1.3M454.98 522.3v1.3"/>
<text class="ke" x="303.73" y="524.21" font-size="5.8" letter-spacing="0.03">0</text>
<text class="ke" x="303.73" y="501.03" font-size="5.8" letter-spacing="0.03">500</text>
<text class="ke" x="303.73" y="477.85" font-size="5.8" letter-spacing="0.03">1000</text>
<text class="ke" x="303.73" y="454.66" font-size="5.8" letter-spacing="0.03">1500</text>
<text class="ke" x="303.73" y="431.48" font-size="5.8" letter-spacing="0.03">2000</text>
<text class="ke" x="303.73" y="408.3" font-size="5.8" letter-spacing="0.03">2500</text>
<text class="ke" x="303.73" y="385.11" font-size="5.8" letter-spacing="0.03">3000</text>
<text class="ks" x="482" y="524.21" font-size="5.8" letter-spacing="0.03">0</text>
<text class="ks" x="482" y="501.03" font-size="5.8" letter-spacing="0.03">2</text>
<text class="ks" x="482" y="477.85" font-size="5.8" letter-spacing="0.03">4</text>
<text class="ks" x="482" y="454.66" font-size="5.8" letter-spacing="0.03">6</text>
<text class="ks" x="482" y="431.48" font-size="5.8" letter-spacing="0.03">8</text>
<text class="ks" x="482" y="408.3" font-size="5.8" letter-spacing="0.03">10</text>
<text class="ks" x="482" y="385.11" font-size="5.8" letter-spacing="0.03">12</text>
<text class="k" x="320.51" y="531.6" font-size="5.8" letter-spacing="0.03">0</text>
<text class="k" x="344.96" y="531.6" font-size="5.8" letter-spacing="0.03">5</text>
<text class="k" x="369.41" y="531.6" font-size="5.8" letter-spacing="0.03">10</text>
<text class="k" x="393.87" y="531.6" font-size="5.8" letter-spacing="0.03">15</text>
<text class="k" x="418.31" y="531.6" font-size="5.8" letter-spacing="0.03">20</text>
<text class="k" x="442.76" y="531.6" font-size="5.8" letter-spacing="0.03">25</text>
<text class="k" x="467.21" y="531.6" font-size="5.8" letter-spacing="0.03">30</text>
<polyline class="l" points="320.5,481.38 344.95,470.72 369.4,414.96 393.85,417.05 418.3,430.15 442.75,456.92 467.2,452.75"/>
<path class="e" d="M320.5 476.74V486.02M319.3 476.74h2.4M319.3 486.02h2.4"/>
<circle cx="320.5" cy="481.38" r="1.75"/>
<path class="e" d="M344.95 467.24V474.19M343.75 467.24h2.4M343.75 474.19h2.4"/>
<circle cx="344.95" cy="470.72" r="1.75"/>
<path class="e" d="M369.4 410.32V419.6M368.2 410.32h2.4M368.2 419.6h2.4"/>
<circle cx="369.4" cy="414.96" r="1.75"/>
<path class="e" d="M393.85 413.57V420.53M392.65 413.57h2.4M392.65 420.53h2.4"/>
<circle cx="393.85" cy="417.05" r="1.75"/>
<path class="e" d="M418.3 424.93V435.36M417.1 424.93h2.4M417.1 435.36h2.4"/>
<circle cx="418.3" cy="430.15" r="1.75"/>
<path class="e" d="M442.75 452.87V460.98M441.55 452.87h2.4M441.55 460.98h2.4"/>
<circle cx="442.75" cy="456.92" r="1.75"/>
<path class="e" d="M467.2 450.43V455.07M466 450.43h2.4M466 455.07h2.4"/>
<circle cx="467.2" cy="452.75" r="1.75"/>
<text class="t" transform="translate(287 487.1) rotate(-90)" font-size="7.27">Enzyme activity (U/mL)</text>
<text class="t" transform="translate(496.2 487.1) rotate(-90)" font-size="7.3">Optical density (600nm)</text>
<text class="t" x="343.1" y="542" font-size="6.89">Concentration of metal ion<tspan font-size="5.8" dx="3.93">（</tspan><tspan dx="1.36">g/L</tspan><tspan font-size="5.8" dx="1.36">）</tspan></text>
<text class="L" x="274.8" y="386.6" font-size="14">f</text>
</g>
</svg>
</body>
</html>
